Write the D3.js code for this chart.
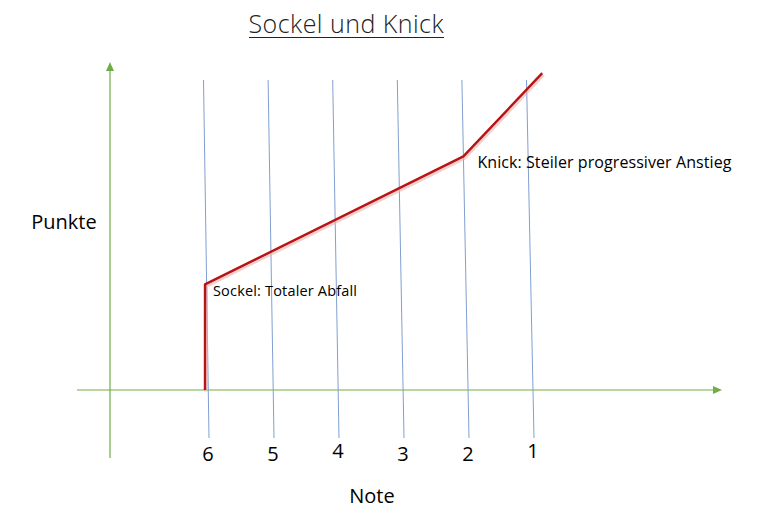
<!DOCTYPE html>
<html>
<head>
<meta charset="utf-8">
<script src="https://cdn.jsdelivr.net/npm/d3@7"></script>
<style>
  body { margin: 0; background: #fff; }
  text { font-family: "Open Sans", sans-serif; fill: #000; }
</style>
</head>
<body>
<div id="root"></div>
<script>
// grades shown as vertical guide lines
const notes = [6, 5, 4, 3, 2, 1]
// the red curve: grade -> points (Sockel, Knick, end)
const curveNotes = [6, 6, 2, 0.78]
const curvePoints = [0, 33, 73, 99]
const labels = [
    { text: 'Sockel: Totaler Abfall', note: 6, points: 33, len: 144, size: 14.5 },
    { text: 'Knick: Steiler progressiver Anstieg', note: 2, points: 73, len: 254, size: 16 }
]

const width = 768
const height = 515
const green = '#70ad47'
const blue = '#7f9fd0'
const red = '#b81414'

const svg = d3.select('#root').append('svg')
    .attr('width', width).attr('height', height)

const x = d3.scaleLinear().domain([6, 1]).range([205, 528])
const y = d3.scaleLinear().domain([0, 100]).range([390, 70])

// title
svg.append('text')
    .attr('x', 346).attr('y', 33)
    .attr('text-anchor', 'middle')
    .attr('textLength', 195)
    .style('font-size', '25px')
    .style('font-weight', 300)
    .style('fill', '#222')
    .text('Sockel und Knick')
svg.append('line')
    .attr('x1', 249).attr('x2', 444).attr('y1', 37.5).attr('y2', 37.5)
    .attr('stroke', '#222').attr('stroke-width', 1)

// axes
const axes = svg.append('g').attr('stroke', green).attr('stroke-width', 1.2)
axes.append('line')
    .attr('x1', 77).attr('x2', 714).attr('y1', y(0)).attr('y2', y(0))
axes.append('line')
    .attr('x1', 110).attr('x2', 110).attr('y1', 458).attr('y2', 70)
svg.append('path')
    .attr('d', `M722,${y(0)} L713,${y(0) - 4} L713,${y(0) + 4} Z`)
    .attr('fill', green)
svg.append('path')
    .attr('d', 'M110,62 L106,71 L114,71 Z')
    .attr('fill', green)

// blue guide lines, slightly tilted like the hand drawing
svg.selectAll('.guide').data(notes)
    .enter().append('line')
    .attr('class', 'guide')
    .attr('x1', d => x(d) - 1.5).attr('y1', 80)
    .attr('x2', d => x(d) + 4 + (6 - d) * 0.4).attr('y2', 438)
    .attr('stroke', blue).attr('stroke-width', 1)

// grade labels
svg.selectAll('.note').data(notes)
    .enter().append('text')
    .attr('class', 'note')
    .attr('x', d => x(d) + 3 + (6 - d) * 0.4)
    .attr('y', d => (d === 4 || d === 1) ? 458 : 461)
    .attr('text-anchor', 'middle')
    .style('font-size', '20px')
    .text(d => d)

svg.append('text')
    .attr('x', 372).attr('y', 503)
    .attr('text-anchor', 'middle')
    .style('font-size', '20px')
    .text('Note')

svg.append('text')
    .attr('x', 64).attr('y', 229)
    .attr('text-anchor', 'middle')
    .style('font-size', '20px')
    .text('Punkte')

// red curve
const curve = curveNotes.map((n, i) => [x(n), y(curvePoints[i])])
const line = d3.line()
svg.append('path')
    .attr('d', line(curve))
    .attr('fill', 'none')
    .attr('stroke', '#e8b0b0').attr('stroke-width', 4)
    .attr('transform', 'translate(1,1.5)')
    .attr('opacity', 0.6)
svg.append('path')
    .attr('d', line(curve))
    .attr('fill', 'none')
    .attr('stroke', red).attr('stroke-width', 2.4)
    .attr('stroke-linejoin', 'round')

// annotations
svg.selectAll('.label').data(labels)
    .enter().append('text')
    .attr('class', 'label')
    .attr('x', d => x(d.note) + 8 + (d.note === 2 ? 6 : 0))
    .attr('y', d => y(d.points) + 12)
    .attr('textLength', d => d.len)
    .style('font-size', d => d.size + 'px')
    .text(d => d.text)
</script>
</body>
</html>
